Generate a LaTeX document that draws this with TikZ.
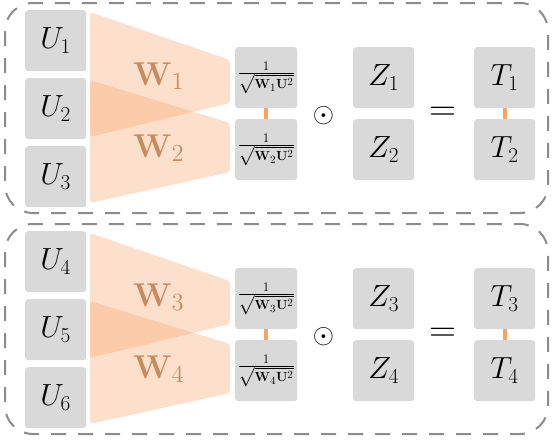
\RequirePackage{fix-cm}
\documentclass[tikz,border=0pt]{standalone}
\DeclareMathSizes{24.88}{24.88}{17.28}{12}
\DeclareMathSizes{20.74}{20.74}{15.5}{12}
\definecolor{boxgray}{RGB}{217,217,217}
\definecolor{framegray}{RGB}{140,140,140}
\definecolor{trapor}{RGB}{250,160,100}
\definecolor{wtext}{RGB}{200,138,95}
\definecolor{connor}{RGB}{245,165,95}
\newcommand{\bigtxt}[1]{\scalebox{1.23}{#1}}
\newcommand{\wtxt}[1]{\scalebox{1.59}{#1}}
\newcommand{\fractxt}[1]{\scalebox{1.1}{#1}}
\newcommand{\optxt}[2]{\scalebox{#1}{#2}}
\begin{document}
\begin{tikzpicture}[x=1pt,y=-1pt,
  box/.style={fill=boxgray, rounded corners=3pt, minimum width=61pt, minimum height=61pt, inner sep=0pt, anchor=north west, font=\fontsize{24.88}{28}\selectfont},
  fracbox/.style={box, minimum width=62pt, font=\fontsize{17.28}{20}\selectfont},
  trap/.style={fill=trapor, fill opacity=0.33, rounded corners=3pt},
  wlabel/.style={text=wtext, anchor=base west, inner sep=0pt, font=\fontsize{20.74}{24}\selectfont},
  conn/.style={draw=connor, line width=4pt},
  frame/.style={draw=framegray, line width=2pt, dash pattern=on 15pt off 12pt, rounded corners=28pt},
  op/.style={font=\fontsize{24.88}{28}\selectfont, inner sep=0pt}]
\useasboundingbox (0,0) rectangle (554,439);
\foreach \g in {0,1}{
  \pgfmathtruncatemacro{\o}{221*\g}
  \pgfmathtruncatemacro{\ua}{3*\g+1}
  \pgfmathtruncatemacro{\ub}{3*\g+2}
  \pgfmathtruncatemacro{\uc}{3*\g+3}
  \pgfmathtruncatemacro{\wa}{2*\g+1}
  \pgfmathtruncatemacro{\wb}{2*\g+2}
  \draw[frame] (5,3+\o) rectangle (548,213+\o);
  \node[box] (U\ua) at (25,10+\o) {\bigtxt{$U_{\ua}$}};
  \node[box] (U\ub) at (25,78+\o) {\bigtxt{$U_{\ub}$}};
  \node[box] (U\uc) at (25,146+\o) {\bigtxt{$U_{\uc}$}};
  \fill[trap] (90,12+\o) -- (230,60+\o) -- (230,103+\o) -- (90,137+\o) -- cycle;
  \fill[trap] (90,80+\o) -- (230,123+\o) -- (230,172+\o) -- (90,203+\o) -- cycle;
  \node[wlabel] (W\wa) at (133,85+\o) {\wtxt{$\mathbf{W}_{\wa}$}};
  \node[wlabel] (W\wb) at (133,157+\o) {\wtxt{$\mathbf{W}_{\wb}$}};
  \node[fracbox] (F\wa) at (235,47+\o) {\fractxt{$\frac{1}{\sqrt{\mathbf{W}_{\wa}\mathbf{U}^2}}$}};
  \node[fracbox] (F\wb) at (235,119+\o) {\fractxt{$\frac{1}{\sqrt{\mathbf{W}_{\wb}\mathbf{U}^2}}$}};
  \draw[conn] (F\wa.south) -- (F\wb.north);
  \node[op] (dot\g) at (323.5,116+\o) {\optxt{1.1}{$\odot$}};
  \node[box] (Z\wa) at (353,47+\o) {\bigtxt{$Z_{\wa}$}};
  \node[box] (Z\wb) at (353,119+\o) {\bigtxt{$Z_{\wb}$}};
  \node[op] (eq\g) at (442.5,113.5+\o) {\optxt{1.5}{$=$}};
  \node[box] (T\wa) at (474,47+\o) {\bigtxt{$T_{\wa}$}};
  \node[box] (T\wb) at (474,119+\o) {\bigtxt{$T_{\wb}$}};
  \draw[conn] (T\wa.south) -- (T\wb.north);
}
\end{tikzpicture}
\end{document}
